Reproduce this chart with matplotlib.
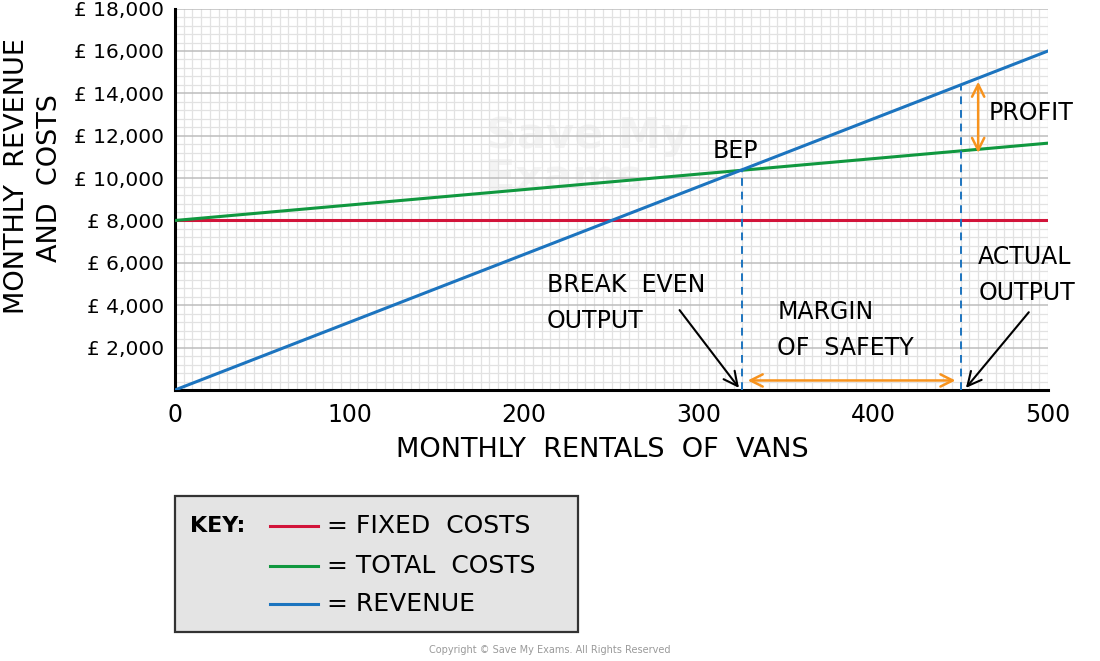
import matplotlib.pyplot as plt
from matplotlib.patches import Rectangle
from matplotlib.lines import Line2D

# chart values
output = [0, 500]
fixed_costs = [8000, 8000]
total_costs = [8000, 11650]
revenue = [0, 16000]
break_even = 325
bep_value = 10400
actual_output = 450
actual_revenue = 14400
actual_costs = 11290
y_ticks = [2000, 4000, 6000, 8000, 10000, 12000, 14000, 16000, 18000]
x_ticks = [0, 100, 200, 300, 400, 500]

RED = '#d2143a'
GREEN = '#10983f'
BLUE = '#1c74bf'
ORANGE = '#f7931e'

plt.rcParams['font.family'] = ['DejaVu Sans']

fig = plt.figure(figsize=(11, 6.61), dpi=100)
ax = fig.add_axes([175/1100, 1 - 390/661, (1048-175)/1100, (390-8.6)/661])

ax.set_xlim(0, 500)
ax.set_ylim(0, 18000)

# graph paper grid
ax.set_xticks(range(0, 501, 5), minor=True)
ax.set_yticks(range(0, 18001, 400), minor=True)
ax.set_xticks(x_ticks)
ax.set_yticks(y_ticks)
ax.grid(which='minor', color='#e2e2e2', linewidth=0.9)
ax.grid(which='major', axis='y', color='#bdbdbd', linewidth=1.1)
ax.grid(which='major', axis='x', color='#e2e2e2', linewidth=0.9)
ax.set_axisbelow(True)

for s in ['top', 'right']:
    ax.spines[s].set_visible(False)
ax.spines['left'].set_linewidth(2.2)
ax.spines['bottom'].set_linewidth(2.2)
ax.tick_params(which='both', length=0)
ax.tick_params(axis='y', labelsize=14.5, pad=8)
ax.tick_params(axis='x', labelsize=17, pad=9)
ax.set_yticklabels([f'£ {v:,}' for v in y_ticks])
ax.set_xticklabels([str(v) for v in x_ticks])

# faint watermark
ax.text(178, 11000, 'Save My\nExams', fontsize=31, color='#f4f4f4', fontweight='bold',
        ha='left', va='center', zorder=0.5, linespacing=1.0)

ax.plot(output, fixed_costs, color=RED, lw=2.2, zorder=3)
ax.plot(output, total_costs, color=GREEN, lw=2.2, zorder=3)
ax.plot(output, revenue, color=BLUE, lw=2.2, zorder=4)

# dashed drop lines
ax.plot([break_even, break_even], [0, bep_value], color=BLUE, lw=1.4,
        ls=(0, (4, 3)), zorder=3)
ax.plot([actual_output, actual_output], [0, actual_revenue], color=BLUE, lw=1.4,
        ls=(0, (4, 3)), zorder=3)

# margin of safety arrow
ax.annotate('', xy=(break_even + 3, 450), xytext=(actual_output - 3, 450),
            arrowprops=dict(arrowstyle='<->', color=ORANGE, lw=1.8,
                            mutation_scale=22, shrinkA=0, shrinkB=0))
# profit arrow
ax.annotate('', xy=(460, actual_revenue + 150), xytext=(460, actual_costs - 100),
            arrowprops=dict(arrowstyle='<->', color=ORANGE, lw=1.8,
                            mutation_scale=22, shrinkA=0, shrinkB=0))

# pointer arrows
ax.annotate('', xy=(break_even - 2, 100), xytext=(289, 3770),
            arrowprops=dict(arrowstyle='->', color='black', lw=1.5,
                            mutation_scale=25, shrinkA=0, shrinkB=0))
ax.annotate('', xy=(actual_output + 3, 100), xytext=(489, 3670),
            arrowprops=dict(arrowstyle='->', color='black', lw=1.5,
                            mutation_scale=25, shrinkA=0, shrinkB=0))

tfs = 17
ax.text(308, 11300, 'BEP', fontsize=tfs, ha='left', va='center')
ax.text(213, 4100, 'BREAK  EVEN\nOUTPUT', fontsize=tfs, ha='left', va='center',
        linespacing=1.65)
ax.text(345, 2830, 'MARGIN\nOF  SAFETY', fontsize=tfs, ha='left', va='center',
        linespacing=1.65)
ax.text(460, 5420, 'ACTUAL\nOUTPUT', fontsize=tfs, ha='left', va='center',
        linespacing=1.65)
ax.text(466, 13050, 'PROFIT', fontsize=tfs, ha='left', va='center')

ax.set_xlabel('MONTHLY  RENTALS  OF  VANS', fontsize=19.5)
ax.xaxis.set_label_coords(0.489, -0.122)
fig.text(17/1100, 1 - 176/661, 'MONTHLY  REVENUE', rotation=90, fontsize=19.5,
         ha='center', va='center')
fig.text(50/1100, 1 - 178/661, 'AND  COSTS', rotation=90, fontsize=19.5,
         ha='center', va='center')

# key box
W, H = 1100, 661
fig.patches.append(Rectangle((175/W, 1 - 632/H), (578-175)/W, (632-496)/H,
                             transform=fig.transFigure, facecolor='#e4e4e4',
                             edgecolor='#333333', linewidth=1.6))
fig.text(190/W, 1 - 526/H, 'KEY:', fontsize=16, fontweight='bold', va='center')
key_items = [('= FIXED  COSTS', RED, 526), ('= TOTAL  COSTS', GREEN, 566),
             ('= REVENUE', BLUE, 604)]
for label, col, yp in key_items:
    fig.lines.append(Line2D([270/W, 318/W], [1 - yp/H, 1 - yp/H],
                            transform=fig.transFigure, color=col, lw=2.2))
    fig.text(327/W, 1 - yp/H, label, fontsize=18, va='center')

fig.text(550/W, 1 - 650/H, 'Copyright © Save My Exams. All Rights Reserved',
         fontsize=7, color='#9a9a9a', ha='center', va='center')

fig.savefig('out.png', dpi=100)
